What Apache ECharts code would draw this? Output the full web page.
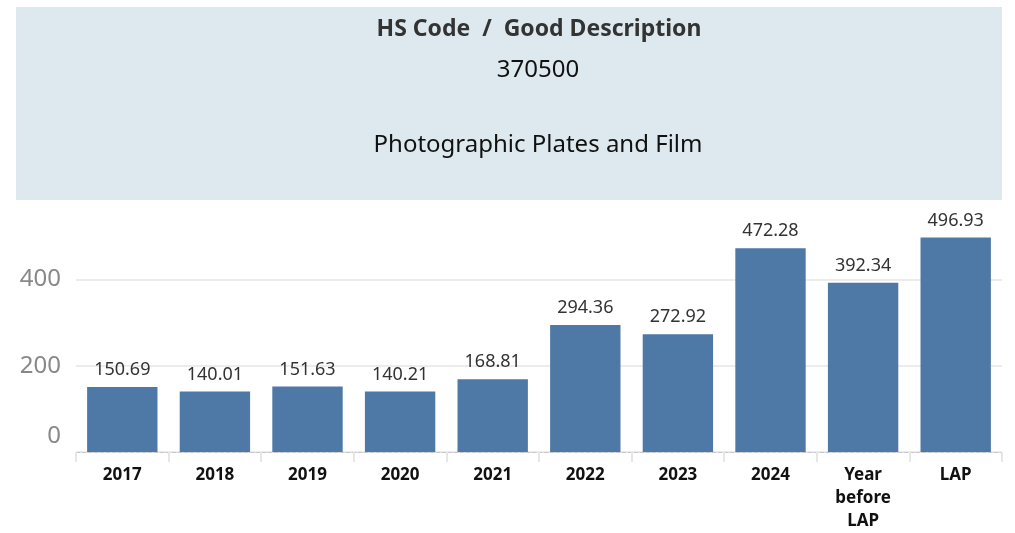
<!DOCTYPE html>
<html>
<head>
<meta charset="utf-8">
<script src="https://cdn.jsdelivr.net/npm/echarts@6/dist/echarts.min.js"></script>
<style>
  html, body { margin: 0; padding: 0; background: #fff; }
  #chart { width: 1015px; height: 533px; }
</style>
</head>
<body>
<div id="chart"></div>
<script>
var categories = ['2017', '2018', '2019', '2020', '2021', '2022', '2023', '2024', 'Year\nbefore\nLAP', 'LAP'];
var values = [150.69, 140.01, 151.63, 140.21, 168.81, 294.36, 272.92, 472.28, 392.34, 496.93];
var yTicks = [0, 200, 400];
var headerLines = ['HS Code  /  Good Description', '370500', 'Photographic Plates and Film'];

var chart = echarts.init(document.getElementById('chart'));
var fontFam = '"Noto Sans", "Open Sans", sans-serif';

var option = {
  animation: false,
  grid: { left: 76, right: 13, top: 193, bottom: 80 },
  graphic: [
    {
      type: 'rect', z: 100,
      shape: { x: 16, y: 7, width: 986, height: 193 },
      style: { fill: '#dde9ef' }
    },
    {
      type: 'text', z: 101, x: 539, y: 29,
      style: { text: headerLines[0], font: 'bold 23px ' + fontFam, fill: '#333', align: 'center', verticalAlign: 'middle' }
    },
    {
      type: 'text', z: 101, x: 538, y: 70,
      style: { text: headerLines[1], font: '24px ' + fontFam, fill: '#111', align: 'center', verticalAlign: 'middle' }
    },
    {
      type: 'text', z: 101, x: 538, y: 145,
      style: { text: headerLines[2], font: '24px ' + fontFam, fill: '#111', align: 'center', verticalAlign: 'middle' }
    }
  ],
  xAxis: {
    type: 'category',
    data: categories,
    axisLine: { lineStyle: { color: '#c8c8c8', type: 'dashed', width: 1 } },
    axisTick: { show: true, length: 10, lineStyle: { color: '#e6e6e6', width: 2 } },
    axisLabel: {
      color: '#111', fontSize: 17, fontWeight: 'bold', fontFamily: fontFam,
      margin: 12, lineHeight: 23, interval: 0
    }
  },
  yAxis: {
    type: 'value',
    min: 0, max: 600, interval: 200,
    axisLine: { show: false },
    axisTick: { show: false },
    splitLine: { lineStyle: { color: '#ececec', width: 2 } },
    axisLabel: {
      color: '#888', fontSize: 24, fontFamily: fontFam, margin: 15,
      formatter: function (v) {
        if (yTicks.indexOf(v) < 0) return '';
        return v === 0 ? '{z|0}' : String(v);
      },
      rich: { z: { color: '#888', fontSize: 24, fontFamily: fontFam, padding: [0, 0, 32, 0] } }
    }
  },
  series: [
    {
      type: 'bar',
      data: values,
      barCategoryGap: '24%',
      itemStyle: { color: '#4e79a7' },
      label: {
        show: true, position: 'top', distance: 8,
        color: '#333', fontSize: 18, fontFamily: fontFam,
        formatter: function (p) { return p.value.toFixed(2); }
      }
    }
  ]
};

chart.setOption(option);
window.addEventListener('resize', function () { chart.resize(); });
</script>
</body>
</html>
